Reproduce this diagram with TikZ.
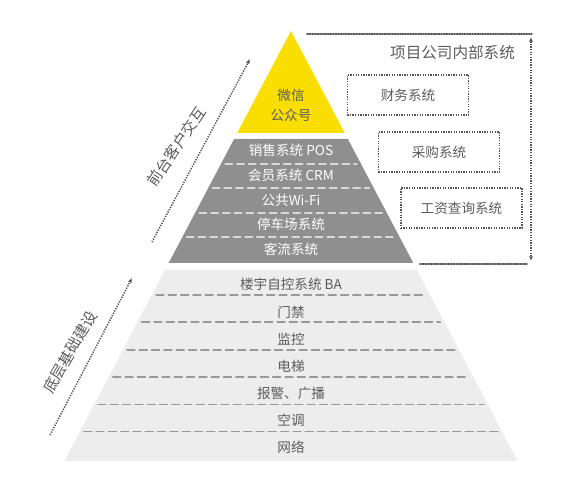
\documentclass[tikz,border=0pt]{standalone}
\usepackage{fontspec}
\setmainfont{Noto Sans CJK SC}
\usetikzlibrary{arrows.meta,calc}
\usepackage{tkz-euclide}
\definecolor{YelClr}{rgb}{0.98,0.87,0}
\definecolor{DarkClr}{rgb}{0.56,0.56,0.56}
\definecolor{LightClr}{rgb}{0.93,0.93,0.93}
\definecolor{TxtClr}{rgb}{0.36,0.36,0.36}
\definecolor{DotClr}{rgb}{0.33,0.33,0.33}
\tikzset{
  bodytxt/.style={font=\fontsize{11.6}{14}\selectfont,inner sep=0pt},
  whitetxt/.style={bodytxt,text=white},
  graytxt/.style={bodytxt,text=TxtClr},
  darkdash/.style={line width=0.9pt,color=black!15,dash pattern=on 6.5pt off 3.5pt},
  lightdash/.style={line width=0.9pt,color=black!40,dash pattern=on 7pt off 3.5pt},
  dotline/.style={line width=1.3pt,color=DotClr,dash pattern=on 1.1pt off 1.1pt},
  sysbox/.style={dotline,text=TxtClr,font=\fontsize{11.6}{14}\selectfont,
    minimum width=3.64cm,minimum height=1.2cm,inner sep=0pt},
  sidetxt/.style={font=\fontsize{13}{15}\selectfont,text=TxtClr,inner sep=0pt}
}

\begin{document}
\begin{tikzpicture}[scale=.03]
\useasboundingbox (0,0) rectangle (569,-479);

\tkzDefPoints{291/-31/T,237.2/-133/Y1,344.8/-133/Y2,
  234.1/-139/D1,347.9/-139/D2,168.7/-263/D3,413.3/-263/D4,
  165/-270/L1,417/-270/L2,64.4/-461/L3,517.6/-461/L4}

% separators
\tkzDefPoints{225/-164/a1,357/-164/b1,212.3/-188/a2,369.7/-188/b2,
  199.1/-213/a3,382.9/-213/b3,186.4/-237/a4,395.6/-237/b4}
\tkzDefPoints{155.9/-295/c1,426.1/-295/d1,141.6/-322/c2,440.4/-322/d2,
  126.9/-350/c3,455.1/-350/d3,112.7/-377/c4,469.3/-377/d4,
  97.9/-405/c5,484.1/-405/d5,83.7/-432/c6,498.3/-432/d6}

\tkzFillPolygon[color=YelClr](T,Y1,Y2)
\tkzFillPolygon[color=DarkClr](D1,D2,D4,D3)
\tkzFillPolygon[color=LightClr](L1,L2,L4,L3)

\tkzDrawSegments[darkdash](a1,b1 a2,b2 a3,b3 a4,b4)
\tkzDrawSegments[lightdash](c1,d1 c2,d2 c3,d3 c4,d4 c5,d5 c6,d6)

\node[graytxt] (wx) at (291,-95) {微信};
\node[graytxt] (gzh) at (291,-115) {公众号};

\node[whitetxt] (pos) at (291,-150) {销售系统 POS};
\node[whitetxt] (crm) at (291,-175) {会员系统 CRM};
\node[whitetxt] (wifi) at (291,-200) {公共Wi-Fi};
\node[whitetxt] (park) at (291,-224) {停车场系统};
\node[whitetxt] (flow) at (291,-249) {客流系统};

\node[graytxt] (ba) at (291,-284) {楼宇自控系统 BA};
\node[graytxt] (door) at (291,-312) {门禁};
\node[graytxt] (cam) at (291,-339) {监控};
\node[graytxt] (lift) at (291,-366) {电梯};
\node[graytxt] (alarm) at (291,-393) {报警、广播};
\node[graytxt] (ac) at (291,-420) {空调};
\node[graytxt] (net) at (291,-447) {网络};

% internal systems
\node[font=\fontsize{13.3}{15}\selectfont,text=TxtClr] (inner) at (452.5,-53) {项目公司内部系统};
\node[sysbox,draw] (fin) at (408,-95) {财务系统};
\node[sysbox,draw] (buy) at (439,-152) {采购系统};
\node[sysbox,draw] (pay) at (461.5,-208) {工资查询系统};

\tkzDefPoints{307/-34/tl,532/-34/tr,531/-37/at,531/-261/ab,420/-264/bl,527/-264/br}
\tkzDrawSegments[dotline](tl,tr bl,br)
\draw[dotline,{Latex[length=4pt,width=3.5pt]}-{Latex[length=4pt,width=3.5pt]}] (at) -- (ab);

% left arrows
\tkzDefPoints{152/-242/f1,250/-59/f2,50/-435/g1,132/-278/g2}
\draw[dotline,-{Latex[length=4pt,width=3.5pt]}] (f1) -- (f2);
\draw[dotline,-{Latex[length=4pt,width=3.5pt]}] (g1) -- (g2);
\node[sidetxt,rotate=56] (front) at (176.5,-146.5) {前台客户交互};
\node[sidetxt,rotate=60] (base) at (70,-352) {底层基础建设};

\end{tikzpicture}
\end{document}
